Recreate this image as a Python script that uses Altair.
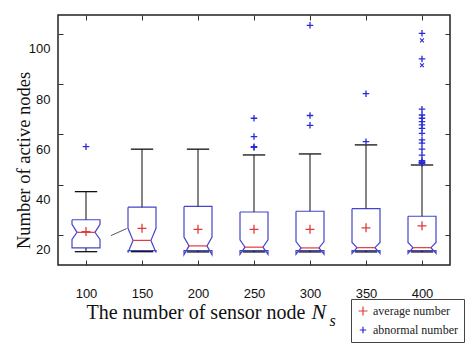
import altair as alt
import pandas as pd

# ---------------- data ----------------
categories   = [100, 150, 200, 250, 300, 350, 400]
whisker_high = [43.2, 60.1, 60.1, 57.8, 58.2, 61.8, 53.8]
upper_q      = [32.0, 37.0, 37.3, 35.1, 35.4, 36.4, 33.4]
notch_high   = [30.2, 28.6, 25.1, 24.0, 23.3, 23.0, 23.0]
medians      = [27.0, 23.8, 21.6, 21.1, 20.8, 20.9, 20.9]
notch_low    = [24.2, 19.0, 18.1, 18.2, 18.3, 18.6, 18.6]
lower_q      = [20.8, 19.7, 19.7, 19.7, 19.7, 19.7, 19.7]
whisker_low  = [19.3, 19.3, 19.2, 19.2, 19.2, 19.2, 19.2]
means        = [27.3, 28.6, 28.2, 28.2, 28.2, 28.8, 29.6]

outlier_cat = [100, 250, 250, 250, 250, 300, 300, 300, 350, 350,
               400, 400, 400, 400, 400, 400, 400, 400, 400, 400, 400,
               400, 400, 400, 400, 400, 400]
outlier_val = [61.1, 72.4, 65.1, 61.1, 60.8, 109.4, 73.5, 69.6, 82.2, 63.1,
               106.2, 96.0, 76.0, 73.7, 72.4, 71.1, 69.8, 68.4, 66.4, 63.8,
               62.5, 60.1, 57.7, 55.5, 55.0, 54.7, 54.4]
cross_cat = [400, 400]
cross_val = [103.4, 93.5]

# stray annotation line seen near the 150 box
annot_x  = [122.3]
annot_x2 = [136.3]
annot_y  = [25.7]
annot_y2 = [28.5]

x_ticks = categories
y_label_values = [20, 40, 60, 80, 100]
y_tick_marks = [26, 46, 66, 86, 106]

# ---------------- styles ----------------
HALF = 12.5     # box half width (x units)
INDENT = 4.5    # notch indent (x units)
CAP = 10.0      # whisker cap half width
BLUE = "#4444cc"
RED = "#e03a3a"
DARK = "#333333"
PLUS = "M-1,0L1,0M0,-1L0,1"
CROSS = "M-0.7,-0.7L0.7,0.7M-0.7,0.7L0.7,-0.7"
SERIF = "Liberation Serif"
SANS = "Liberation Sans"

xs = alt.Scale(domain=[75, 425], nice=False, zero=False)
ys = alt.Scale(domain=[14, 113.5], nice=False, zero=False)

stats = pd.DataFrame(dict(cat=categories, whi=whisker_high, q3=upper_q,
                          nhi=notch_high, med=medians, nlo=notch_low,
                          q1=lower_q, wlo=whisker_low, mean=means))

# outline polygon of each notched box
rows = []
for r in stats.itertuples():
    pts = [(r.cat - HALF, r.q3), (r.cat + HALF, r.q3), (r.cat + HALF, r.nhi),
           (r.cat + HALF - INDENT, r.med), (r.cat + HALF, r.nlo), (r.cat + HALF, r.q1),
           (r.cat - HALF, r.q1), (r.cat - HALF, r.nlo), (r.cat - HALF + INDENT, r.med),
           (r.cat - HALF, r.nhi), (r.cat - HALF, r.q3)]
    for i, (px, py) in enumerate(pts):
        rows.append(dict(cat=r.cat, i=i, px=px, py=py))
outline_df = pd.DataFrame(rows)

med_df = stats.assign(xl=stats.cat - HALF + INDENT, xr=stats.cat + HALF - INDENT)
whisk_df = pd.concat([
    pd.DataFrame(dict(cat=stats.cat, a=stats.q3, b=stats.whi)),
    pd.DataFrame(dict(cat=stats.cat, a=stats.q1, b=stats.wlo)),
])
cap_df = pd.concat([
    pd.DataFrame(dict(v=stats.whi, xl=stats.cat - CAP, xr=stats.cat + CAP)),
    pd.DataFrame(dict(v=stats.wlo, xl=stats.cat - CAP, xr=stats.cat + CAP)),
])
pts_df = pd.concat([
    pd.DataFrame(dict(cat=categories, val=means, kind="average number")),
    pd.DataFrame(dict(cat=outlier_cat, val=outlier_val, kind="abnormal number")),
])
cross_df = pd.DataFrame(dict(cat=cross_cat, val=cross_val))
annot_df = pd.DataFrame(dict(x=annot_x, x2=annot_x2, y=annot_y, y2=annot_y2))

main_x_axis = alt.Axis(orient="bottom", values=x_ticks, ticks=False, domain=False, grid=False,
                       labelPadding=22, labelFont=SANS, labelFontSize=13, labelColor="#111",
                       title="The number of sensor node", titleFont=SERIF, titleFontSize=20,
                       titleFontWeight="normal", titleColor="#111", titleAlign="left",
                       titleX=28, titleY=53, titleBaseline="alphabetic")
main_y_axis = alt.Axis(orient="left", values=y_label_values, ticks=False, domain=False, grid=False,
                       labelPadding=8, labelFont=SANS, labelFontSize=13, labelColor="#111",
                       title="Number of active nodes", titleFont=SERIF, titleFontSize=18.5,
                       titleFontWeight="normal", titleColor="#111", titleAngle=270,
                       titleAlign="center", titleBaseline="middle", titleX=-35, titleY=145)

outline = alt.Chart(outline_df).mark_line(color=BLUE, strokeWidth=1.2).encode(
    x=alt.X("px:Q", scale=xs, axis=main_x_axis),
    y=alt.Y("py:Q", scale=ys, axis=main_y_axis),
    detail="cat:N", order="i:Q")

whisk = alt.Chart(whisk_df).mark_rule(color=DARK, strokeWidth=1.2).encode(
    x=alt.X("cat:Q", scale=xs, axis=None),
    y=alt.Y("a:Q", scale=ys, axis=None), y2="b:Q")

caps = alt.Chart(cap_df).mark_rule(color="#111", strokeWidth=1.3).encode(
    x=alt.X("xl:Q", scale=xs, axis=None), x2="xr:Q",
    y=alt.Y("v:Q", scale=ys, axis=None))

med = alt.Chart(med_df).mark_rule(color=RED, strokeWidth=1.2).encode(
    x=alt.X("xl:Q", scale=xs, axis=None), x2="xr:Q",
    y=alt.Y("med:Q", scale=ys, axis=None))

annot = alt.Chart(annot_df).mark_rule(color="#555", strokeWidth=1).encode(
    x=alt.X("x:Q", scale=xs, axis=None), x2="x2:Q",
    y=alt.Y("y:Q", scale=ys, axis=None), y2="y2:Q")

points = alt.Chart(pts_df).mark_point(shape=PLUS, filled=False, strokeWidth=1.3, opacity=1).encode(
    x=alt.X("cat:Q", scale=xs, axis=None),
    y=alt.Y("val:Q", scale=ys, axis=None),
    color=alt.Color("kind:N",
                    scale=alt.Scale(domain=["average number", "abnormal number"], range=[RED, "#2a2ad8"]),
                    legend=alt.Legend(title=None, orient="none", legendX=293, legendY=284,
                                      fillColor="white", strokeColor="#444", padding=6,
                                      labelFont=SERIF, labelFontSize=12, labelColor="#222",
                                      symbolSize=45, symbolStrokeWidth=1.2, rowPadding=6,
                                      labelOffset=4)),
    size=alt.Size("kind:N", scale=alt.Scale(domain=["average number", "abnormal number"], range=[80, 42]),
                  legend=None))

crosses = alt.Chart(cross_df).mark_point(shape=CROSS, filled=False, strokeWidth=1.1, color="#2a2ad8",
                                         size=30, opacity=1).encode(
    x=alt.X("cat:Q", scale=xs, axis=None),
    y=alt.Y("val:Q", scale=ys, axis=None))


def axis_layer(xaxis, yaxis):
    return alt.Chart(stats).mark_point(opacity=0).encode(
        x=alt.X("cat:Q", scale=xs, axis=xaxis),
        y=alt.Y("mean:Q", scale=ys, axis=yaxis))


def tick_axis(orient, values):
    return alt.Axis(orient=orient, values=values, offset=-5, labels=False, domain=False,
                    grid=False, ticks=True, tickSize=5, tickColor=DARK, tickWidth=1, title=None)


ticks_a = axis_layer(tick_axis("top", x_ticks), tick_axis("left", y_tick_marks))
ticks_b = axis_layer(tick_axis("bottom", x_ticks), tick_axis("right", y_tick_marks))

n_title = axis_layer(alt.Axis(orient="bottom", labels=False, ticks=False, domain=False, grid=False,
                              title="N", titleFont=SERIF, titleFontSize=22, titleFontStyle="italic",
                              titleFontWeight="normal", titleColor="#111", titleAlign="left",
                              titleX=253, titleY=53, titleBaseline="alphabetic"), None)
s_title = axis_layer(alt.Axis(orient="bottom", labels=False, ticks=False, domain=False, grid=False,
                              title="s", titleFont=SERIF, titleFontSize=16, titleFontStyle="italic",
                              titleFontWeight="normal", titleColor="#111", titleAlign="left",
                              titleX=271, titleY=60, titleBaseline="alphabetic"), None)

chart = alt.layer(outline, whisk, caps, med, annot, points, crosses,
                  ticks_a, ticks_b, n_title, s_title).resolve_axis(
    x="independent", y="independent"
).properties(
    width=392, height=250,
    padding={"left": 58, "top": 15, "right": 24, "bottom": 88},
    autosize=alt.AutoSizeParams(type="none"),
    background="white",
).configure_view(stroke="#222", strokeWidth=1.5)

chart.save("out.html", embed_options={"renderer": "svg", "actions": False})
